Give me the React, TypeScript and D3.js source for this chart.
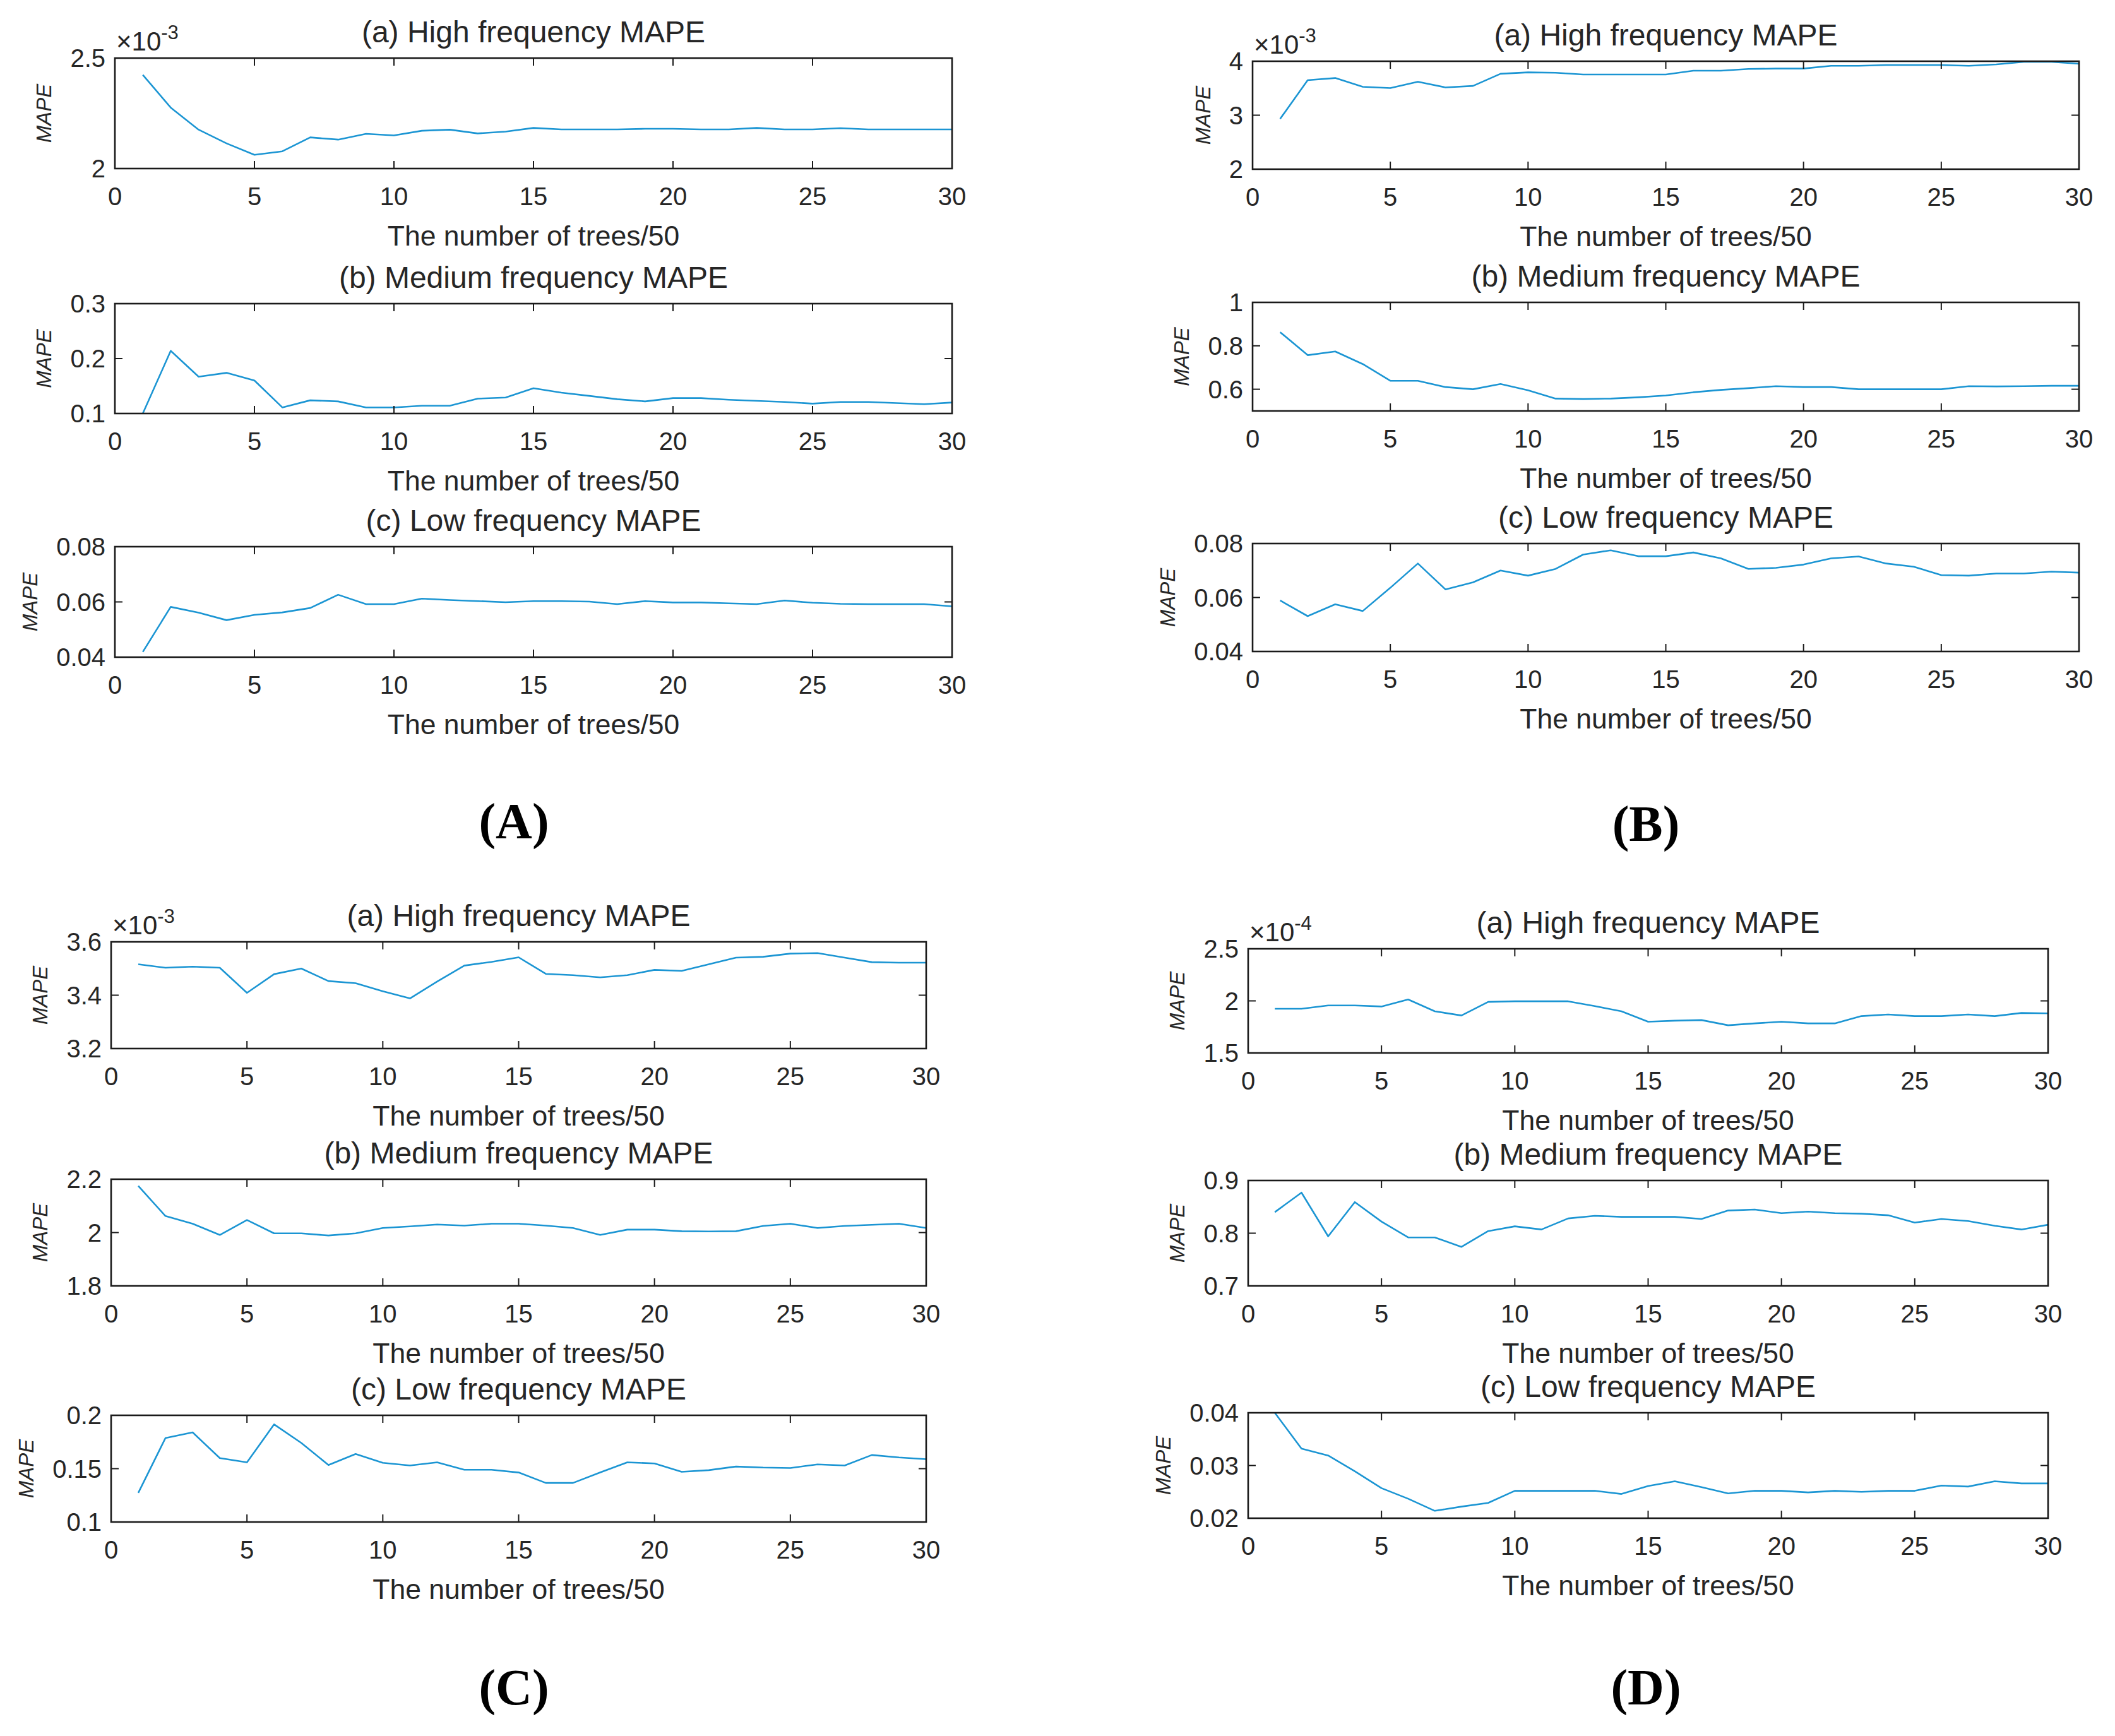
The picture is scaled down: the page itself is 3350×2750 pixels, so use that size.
import * as d3 from "d3";

// x positions: number of trees / 50
const trees = [1, 2, 3, 4, 5, 6, 7, 8, 9, 10, 11, 12, 13, 14, 15, 16, 17, 18, 19, 20, 21, 22, 23, 24, 25, 26, 27, 28, 29, 30];
const xTicks = [0, 5, 10, 15, 20, 25, 30];

// (A)
const aHigh = [2.424, 2.276, 2.176, 2.114, 2.062, 2.078, 2.141, 2.131, 2.157, 2.150, 2.171, 2.176, 2.159, 2.167, 2.184, 2.177, 2.177, 2.177, 2.180, 2.180, 2.177, 2.177, 2.184, 2.177, 2.177, 2.183, 2.177, 2.177, 2.177, 2.177]; // x10^-3
const aMed = [0.100, 0.214, 0.167, 0.174, 0.160, 0.111, 0.124, 0.122, 0.111, 0.111, 0.114, 0.114, 0.127, 0.129, 0.146, 0.138, 0.132, 0.126, 0.122, 0.128, 0.128, 0.125, 0.123, 0.121, 0.118, 0.121, 0.121, 0.119, 0.117, 0.120];
const aLow = [0.0419, 0.0582, 0.0561, 0.0534, 0.0553, 0.0562, 0.0578, 0.0626, 0.0592, 0.0592, 0.0612, 0.0607, 0.0603, 0.0599, 0.0603, 0.0603, 0.0601, 0.0592, 0.0603, 0.0598, 0.0598, 0.0595, 0.0592, 0.0605, 0.0597, 0.0593, 0.0592, 0.0592, 0.0592, 0.0584];
// (B)
const bHigh = [2.932, 3.650, 3.689, 3.526, 3.503, 3.619, 3.515, 3.542, 3.767, 3.794, 3.786, 3.755, 3.755, 3.755, 3.755, 3.825, 3.825, 3.856, 3.864, 3.864, 3.915, 3.915, 3.930, 3.930, 3.930, 3.915, 3.942, 3.988, 3.988, 3.953]; // x10^-3
const bMed = [0.863, 0.757, 0.774, 0.716, 0.639, 0.639, 0.610, 0.600, 0.624, 0.595, 0.557, 0.555, 0.557, 0.563, 0.571, 0.586, 0.597, 0.605, 0.614, 0.610, 0.610, 0.600, 0.600, 0.600, 0.600, 0.614, 0.613, 0.614, 0.616, 0.616];
const bLow = [0.0589, 0.0531, 0.0575, 0.0550, 0.0636, 0.0726, 0.0630, 0.0656, 0.0700, 0.0681, 0.0706, 0.0759, 0.0775, 0.0753, 0.0753, 0.0767, 0.0745, 0.0706, 0.0710, 0.0722, 0.0745, 0.0752, 0.0726, 0.0714, 0.0683, 0.0681, 0.0689, 0.0689, 0.0696, 0.0692];
// (C)
const cHigh = [3.516, 3.503, 3.507, 3.503, 3.409, 3.479, 3.500, 3.453, 3.445, 3.415, 3.388, 3.451, 3.511, 3.525, 3.542, 3.480, 3.475, 3.467, 3.475, 3.495, 3.491, 3.516, 3.541, 3.544, 3.556, 3.558, 3.541, 3.524, 3.522, 3.522]; // x10^-3
const cMed = [2.175, 2.062, 2.033, 1.991, 2.047, 1.997, 1.997, 1.989, 1.997, 2.017, 2.023, 2.030, 2.026, 2.033, 2.033, 2.026, 2.017, 1.991, 2.011, 2.011, 2.005, 2.004, 2.005, 2.025, 2.033, 2.017, 2.025, 2.029, 2.033, 2.017];
const cLow = [0.1273, 0.1787, 0.1840, 0.1599, 0.1559, 0.1915, 0.1741, 0.1534, 0.1638, 0.1555, 0.1530, 0.1559, 0.1490, 0.1490, 0.1464, 0.1366, 0.1366, 0.1464, 0.1559, 0.1549, 0.1470, 0.1486, 0.1520, 0.1510, 0.1506, 0.1540, 0.1530, 0.1628, 0.1605, 0.1589];
// (D)
const dHigh = [1.924, 1.924, 1.956, 1.956, 1.946, 2.014, 1.900, 1.860, 1.990, 1.996, 1.996, 1.996, 1.950, 1.900, 1.800, 1.810, 1.816, 1.766, 1.784, 1.800, 1.784, 1.784, 1.854, 1.870, 1.854, 1.854, 1.870, 1.854, 1.884, 1.880]; // x10^-4
const dMed = [0.840, 0.877, 0.794, 0.859, 0.822, 0.792, 0.792, 0.774, 0.804, 0.813, 0.807, 0.828, 0.833, 0.831, 0.831, 0.831, 0.827, 0.843, 0.845, 0.838, 0.841, 0.838, 0.837, 0.834, 0.820, 0.827, 0.823, 0.814, 0.807, 0.816];
const dLow = [0.0400, 0.0332, 0.0319, 0.0289, 0.0257, 0.0237, 0.0214, 0.0222, 0.0229, 0.0252, 0.0252, 0.0252, 0.0252, 0.0246, 0.0261, 0.0270, 0.0259, 0.0247, 0.0252, 0.0252, 0.0249, 0.0252, 0.0250, 0.0252, 0.0252, 0.0262, 0.0260, 0.0270, 0.0266, 0.0266];

// y ticks (limits are first/last unless given)
const aHighTicks = [2, 2.5];
const aMedTicks = [0.1, 0.2, 0.3];
const aLowTicks = [0.04, 0.06, 0.08];
const bHighTicks = [2, 3, 4];
const bMedTicks = [0.6, 0.8, 1];
const bLowTicks = [0.04, 0.06, 0.08];
const cHighTicks = [3.2, 3.4, 3.6];
const cMedTicks = [1.8, 2, 2.2];
const cLowTicks = [0.1, 0.15, 0.2];
const dHighTicks = [1.5, 2, 2.5];
const dMedTicks = [0.7, 0.8, 0.9];
const dLowTicks = [0.02, 0.03, 0.04];

const titles = ["(a) High frequency MAPE", "(b) Medium frequency MAPE", "(c) Low frequency MAPE"];
const xLabel = "The number of trees/50";
const yLabel = "MAPE";

// pixel layout of each panel's three axes
const frames = {
  A: { left: 182, right: 1508, rows: [[92, 267], [481, 655], [866, 1041]], tag: [814, 1328] },
  B: { left: 1984, right: 3293, rows: [[97, 268], [479, 651], [861, 1032]], tag: [2607, 1332] },
  C: { left: 176, right: 1467, rows: [[1492, 1661], [1868, 2037], [2242, 2411]], tag: [814, 2700] },
  D: { left: 1977, right: 3244, rows: [[1503, 1668], [1870, 2037], [2238, 2405]], tag: [2607, 2700] },
};

const subplots = [
  { panel: "A", row: 0, values: aHigh, ticks: aHighTicks, exp: "-3" },
  { panel: "A", row: 1, values: aMed, ticks: aMedTicks },
  { panel: "A", row: 2, values: aLow, ticks: aLowTicks },
  { panel: "B", row: 0, values: bHigh, ticks: bHighTicks, exp: "-3" },
  { panel: "B", row: 1, values: bMed, ticks: bMedTicks, domain: [0.5, 1] },
  { panel: "B", row: 2, values: bLow, ticks: bLowTicks },
  { panel: "C", row: 0, values: cHigh, ticks: cHighTicks, exp: "-3" },
  { panel: "C", row: 1, values: cMed, ticks: cMedTicks },
  { panel: "C", row: 2, values: cLow, ticks: cLowTicks },
  { panel: "D", row: 0, values: dHigh, ticks: dHighTicks, exp: "-4" },
  { panel: "D", row: 1, values: dMed, ticks: dMedTicks },
  { panel: "D", row: 2, values: dLow, ticks: dLowTicks },
];

const FONT = "'Liberation Sans', Arial, Helvetica, sans-serif";
const TXT = "#262626";
const AX = "#1a1a1a";
const LINE = "#1b95d3";
const tickFs = 40;
const tickLen = 12;

// rough Arial width of a numeric label
const labelWidth = (s: string, fs: number) =>
  s.split("").reduce((w, ch) => w + (ch === "." ? 0.278 : 0.556), 0) * fs;

function Subplot({ sp, idx }: { sp: any; idx: number }) {
  const f = (frames as any)[sp.panel];
  const [top, bottom] = f.rows[sp.row];
  const { left, right } = f;
  const dom = sp.domain || [sp.ticks[0], sp.ticks[sp.ticks.length - 1]];
  const x = d3.scaleLinear([0, 30], [left, right]);
  const y = d3.scaleLinear(dom, [bottom, top]);
  const line = d3.line<number>((d, i) => x(trees[i]), (d) => y(d));
  const tickLabels = sp.ticks.map((t: number) => String(t));
  const maxW = d3.max(tickLabels, (s: string) => labelWidth(s, tickFs)) as number;
  const ylX = left - 15 - maxW - 30;
  const midY = (top + bottom) / 2;
  const clipId = `clip${idx}`;
  return (
    <g>
      <clipPath id={clipId}>
        <rect x={left} y={top - 2} width={right - left} height={bottom - top + 4} />
      </clipPath>
      <path d={line(sp.values) || ""} fill="none" stroke={LINE} strokeWidth={2.6} strokeLinejoin="round" clipPath={`url(#${clipId})`} />
      {/* ticks on all four sides */}
      {xTicks.map((t) => (
        <g key={"xt" + t}>
          <line x1={x(t)} x2={x(t)} y1={bottom} y2={bottom - tickLen} stroke={AX} strokeWidth={2} />
          <line x1={x(t)} x2={x(t)} y1={top} y2={top + tickLen} stroke={AX} strokeWidth={2} />
          <text x={x(t)} y={bottom + 58} fontSize={tickFs} textAnchor="middle" fill={TXT} fontFamily={FONT}>{t}</text>
        </g>
      ))}
      {sp.ticks.map((t: number, i: number) => (
        <g key={"yt" + i}>
          <line x1={left} x2={left + tickLen} y1={y(t)} y2={y(t)} stroke={AX} strokeWidth={2} />
          <line x1={right} x2={right - tickLen} y1={y(t)} y2={y(t)} stroke={AX} strokeWidth={2} />
          <text x={left - 15} y={y(t)} dy="0.36em" fontSize={tickFs} textAnchor="end" fill={TXT} fontFamily={FONT}>{tickLabels[i]}</text>
        </g>
      ))}
      <rect x={left} y={top} width={right - left} height={bottom - top} fill="none" stroke={AX} strokeWidth={2.6} />
      <text x={(left + right) / 2} y={top - 25} fontSize={48} textAnchor="middle" fill={TXT} fontFamily={FONT}>{titles[sp.row]}</text>
      <text x={(left + right) / 2} y={bottom + 122} fontSize={44.5} textAnchor="middle" fill={TXT} fontFamily={FONT}>{xLabel}</text>
      <text transform={`translate(${ylX},${midY}) rotate(-90)`} fontSize={33} fontStyle="italic" textAnchor="middle" fill={TXT} fontFamily={FONT}>{yLabel}</text>
      {sp.exp && (
        <text x={left + 2} y={top - 12} fontSize={42} fill={TXT} fontFamily={FONT}>
          {"\u00d710"}
          <tspan dy={-18} fontSize={31}>{sp.exp}</tspan>
        </text>
      )}
    </g>
  );
}

export default function App() {
  return (
    <svg width={3350} height={2750} style={{ position: "absolute", left: 0, top: 0, display: "block" }}>
      <rect width={3350} height={2750} fill="white" />
      {subplots.map((sp, i) => (
        <Subplot key={i} sp={sp} idx={i} />
      ))}
      {Object.entries(frames).map(([k, f]) => (
        <text key={k} x={f.tag[0]} y={f.tag[1]} fontSize={80} fontWeight="bold" textAnchor="middle" fontFamily="'Liberation Serif', 'Times New Roman', serif" fill="#000">
          ({k})
        </text>
      ))}
    </svg>
  );
}
